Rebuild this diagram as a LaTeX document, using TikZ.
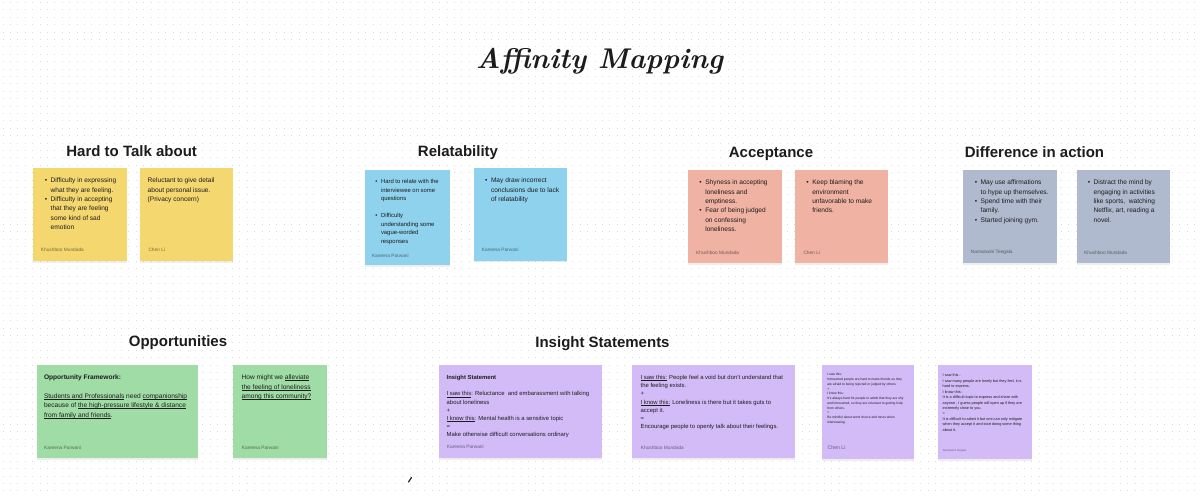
\documentclass[tikz,border=0pt]{standalone}
\usepackage{fontspec}
\newfontfamily\ui{Liberation Sans}
\usetikzlibrary{shadows}
\definecolor{yel}{HTML}{F5D770}
\definecolor{blu}{HTML}{8FD2EE}
\definecolor{sal}{HTML}{F0B2A2}
\definecolor{gry}{HTML}{B0BACE}
\definecolor{grn}{HTML}{A0DCA5}
\definecolor{pur}{HTML}{D3BBF8}
\definecolor{ink}{HTML}{1C1C1C}
\definecolor{dotc}{HTML}{DDDDDD}
\newcommand{\bu}{\llap{\textbullet\hspace{3.6pt}}}
\newlength{\ulwd}
\newcommand{\ul}[1]{\settowidth{\ulwd}{#1}\rlap{\rule[-1.2pt]{\ulwd}{0.45pt}}#1}
\tikzset{
  note/.style={rectangle, inner sep=0pt, outer sep=0pt, draw=none, anchor=north west,
    drop shadow={shadow xshift=0pt, shadow yshift=-1.8pt, opacity=0.13}},
  txt/.style={anchor=north west, inner sep=0pt, outer sep=0pt, align=left, text=ink},
  body/.style={txt, font=\ui\fontsize{6.6}{9.4}\selectfont},
  small/.style={txt, font=\ui\fontsize{5.9}{8.67}\selectfont},
  ins/.style={txt, font=\ui\fontsize{5.9}{8.2}\selectfont},
  author/.style={anchor=west, inner sep=0pt, text=black, text opacity=0.5, font=\ui\fontsize{4.8}{5}\selectfont},
  head/.style={anchor=base, inner sep=0pt, text=ink, font=\ui\bfseries\fontsize{15}{18}\selectfont},
  gridrow/.style={draw=dotc, line width=1pt, dash pattern=on 1pt off 6.4pt, dash phase=4.9pt},
}
\begin{document}
\begin{tikzpicture}[x=1pt, y=-1pt]
\useasboundingbox (0,0) rectangle (1200,497);
\fill[white] (0,0) rectangle (1200,497);
\foreach \i in {0,...,66}{\draw[gridrow] (0,{2.5+7.4*\i}) -- (1200,{2.5+7.4*\i});}

% title
\node[anchor=base, inner sep=0pt, text=ink] (title) at (599.5,68.3) {\resizebox{247pt}{!}{\bfseries\itshape Affinity Mapping}};

% headings
\node[head] (h1) at (131.7,157) {Hard to Talk about};
\node[head] (h2) at (458,157) {Relatability};
\node[head] (h3) at (771,158) {Acceptance};
\node[head] (h4) at (1034.5,158) {Difference in action};
\node[head] (h5) at (178,346.7) {Opportunities};
\node[head] (h6) at (602.5,347) {Insight Statements};

% notes
\node[note, fill=yel, minimum width=93.4pt, minimum height=93.3pt] (y1) at (33.3,167.7) {};
\node[note, fill=yel, minimum width=93.3pt, minimum height=93.3pt] (y2) at (140,167.7) {};
\node[note, fill=blu, minimum width=85pt, minimum height=95pt] (b1) at (365,170) {};
\node[note, fill=blu, minimum width=92.7pt, minimum height=93pt] (b2) at (474,167.7) {};
\node[note, fill=sal, minimum width=93.4pt, minimum height=93.3pt] (s1) at (688.3,170) {};
\node[note, fill=sal, minimum width=93.3pt, minimum height=93.3pt] (s2) at (795,170) {};
\node[note, fill=gry, minimum width=93.4pt, minimum height=93.3pt] (g1) at (963.3,170) {};
\node[note, fill=gry, minimum width=93.3pt, minimum height=93.3pt] (g2) at (1076.7,170) {};
\node[note, fill=grn, minimum width=161.6pt, minimum height=93.3pt] (o1) at (36.7,365) {};
\node[note, fill=grn, minimum width=93.4pt, minimum height=93.3pt] (o2) at (233.3,365) {};
\node[note, fill=pur, minimum width=162.4pt, minimum height=93.3pt] (p1) at (439.3,365) {};
\node[note, fill=pur, minimum width=162.7pt, minimum height=93.3pt] (p2) at (632.3,365) {};
\node[note, fill=pur, minimum width=92.3pt, minimum height=94pt] (p3) at (821.7,365) {};
\node[note, fill=pur, minimum width=93.4pt, minimum height=94pt] (p4) at (938.3,365) {};

% note texts
\node[body] (ty1) at (50.7,177.9) {\bu Difficulty in expressing\\what they are feeling.\\\bu Difficulty in accepting\\that they are feeling\\some kind of sad\\emotion};
\node[body] (ty2) at (147.7,177.9) {Reluctant to give detail\\about personal issue.\\(Privacy concern)};
\node[small] (tb1a) at (381,179.2) {\bu Hard to relate with the\\interviewee on some\\questions};
\node[small] (tb1b) at (381,213.2) {\bu Difficulty\\understanding some\\vague-worded\\responses};
\node[body] (tb2) at (491,177.85) {\bu May draw incorrect\\conclusions due to lack\\of relatability};
\node[body] (ts1) at (705.3,179.85) {\bu Shyness in accepting\\loneliness and\\emptiness.\\\bu Fear of being judged\\on confessing\\loneliness.};
\node[body] (ts2) at (812.3,179.85) {\bu Keep blaming the\\environment\\unfavorable to make\\friends.};
\node[body] (tg1) at (980.7,179.85) {\bu May use affirmations\\to hype up themselves.\\\bu Spend time with their\\family.\\\bu Started joining gym.};
\node[body] (tg2) at (1093.7,179.85) {\bu Distract the mind by\\engaging in activities\\like sports,\ \ watching\\Netflix, art, reading a\\novel.};
\node[body] (to1) at (44,374.85) {\textbf{Opportunity Framework:}\\[9.3pt]\ul{Students and Professionals} need \ul{companionship}\\because of \ul{the high-pressure lifestyle \& distance}\\\ul{from family and friends}.};
\node[body] (to2) at (241.7,374.85) {How might we \ul{alleviate}\\\ul{the feeling of loneliness}\\\ul{among this community?}};
\node[ins] (tp1) at (446.7,375.2) {\textbf{Insight Statement}\\[8.2pt]\ul{I saw this}: Reluctance\ \ and embarassment with talking\\about loneliness\\+\\\ul{I know this}: Mental health is a sensitive topic\\=\\Make otherwise difficult conversations ordinary};
\node[ins] (tp2) at (640.7,375.2) {\ul{I saw this:} People feel a void but don’t understand that\\the feeling exists.\\+\\\ul{I know this:} Loneliness is there but it takes guts to\\accept it.\\=\\Encourage people to openly talk about their feelings.};
\node[txt, font=\ui\fontsize{3.3}{4.75}\selectfont] (tp3) at (827.3,373.6) {I saw this:\\Introverted people are hard to make friends as they\\are afraid to being rejected or judged by others.\\+\\I know this:\\It's always hard for people to admit that they are shy\\and introverted, so they are reluctant to getting help\\from others.\\=\\Be mindful about word choice and tones when\\interviewing.};
\node[txt, font=\ui\fontsize{3.8}{5.43}\selectfont] (tp4) at (942.7,374.1) {I saw this :\\I saw many people are lonely but they feel, it is\\hard to express.\\I know this :\\It is a difficult topic to express and share with\\anyone , I guess people will open up if they are\\extremely close to you.\\=\\It is difficult to admit it but one can only mitigate\\when they accept it and start doing some thing\\about it.};

% authors
\node[author] (ay1) at (40.7,249.3) {Khushboo Mundada};
\node[author] (ay2) at (148.3,249.3) {Chen Li};
\node[author] (ab1) at (371.7,255.3) {Kareena Parwani};
\node[author] (ab2) at (481.7,250) {Kareena Parwani};
\node[author] (as1) at (696,252.7) {Khushboo Mundada};
\node[author] (as2) at (803.3,252.7) {Chen Li};
\node[author] (ag1) at (970.7,252.7) {Namaswini Teegala};
\node[author] (ag2) at (1084,252.7) {Khushboo Mundada};
\node[author] (ao1) at (44,447.7) {Kareena Parwani};
\node[author] (ao2) at (241.7,447.7) {Kareena Parwani};
\node[author] (ap1) at (446.7,447) {Kareena Parwani};
\node[author] (ap2) at (640.7,447.3) {Khushboo Mundada};
\node[author, font=\ui\fontsize{5.2}{6}\selectfont] (ap3) at (827.3,447.7) {Chen Li};
\node[author, font=\ui\fontsize{2.7}{3}\selectfont] (ap4) at (942.7,450.7) {Namaswini Teegala};

% stray pen mark
\coordinate (m1) at (408.5,482);
\coordinate (m2) at (411.5,477.5);
\draw[ink, line width=1.2pt, line cap=round] (m1) -- (m2);
\end{tikzpicture}
\end{document}
